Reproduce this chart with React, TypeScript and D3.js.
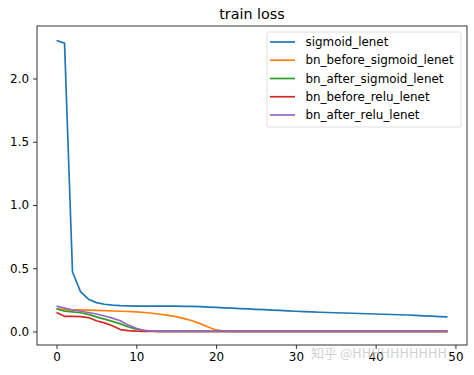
import * as d3 from "d3";
import { FC, useEffect, useRef } from "react";

const WIDTH = 474;
const HEIGHT = 375;
const MARGIN = { top: 26, right: 7, bottom: 30, left: 37 };

const epochs = d3.range(50);

const sigmoidLenet = [
  2.3, 2.28, 0.47, 0.315, 0.255, 0.228, 0.215, 0.208, 0.204, 0.202, 0.201,
  0.2, 0.2, 0.2, 0.2, 0.2, 0.199, 0.198, 0.196, 0.193, 0.19, 0.187, 0.184,
  0.181, 0.178, 0.175, 0.172, 0.169, 0.166, 0.163, 0.16, 0.157, 0.155, 0.152,
  0.15, 0.148, 0.146, 0.144, 0.142, 0.14, 0.138, 0.136, 0.134, 0.132, 0.13,
  0.127, 0.124, 0.121, 0.118, 0.115,
];
const bnBeforeSigmoid = [
  0.18, 0.17, 0.17, 0.17, 0.168, 0.166, 0.164, 0.162, 0.16, 0.158, 0.155,
  0.15, 0.144, 0.136, 0.127, 0.117, 0.102, 0.085, 0.062, 0.035, 0.012, 0.003,
  0.001, 0, 0, 0, 0, 0, 0, 0, 0, 0, 0, 0, 0, 0, 0, 0, 0, 0, 0, 0, 0, 0, 0, 0,
  0, 0, 0, 0,
];
const bnAfterSigmoid = [
  0.18, 0.16, 0.155, 0.148, 0.135, 0.115, 0.098, 0.08, 0.06, 0.035, 0.018,
  0.006, 0.002, 0, 0, 0, 0, 0, 0, 0, 0, 0, 0, 0, 0, 0, 0, 0, 0, 0, 0, 0, 0, 0,
  0, 0, 0, 0, 0, 0, 0, 0, 0, 0, 0, 0, 0, 0, 0, 0,
];
const bnBeforeRelu = [
  0.15, 0.12, 0.12, 0.118, 0.11, 0.085, 0.068, 0.045, 0.015, 0.006, 0.002,
  0.001, 0, 0, 0, 0, 0, 0, 0, 0, 0, 0, 0, 0, 0, 0, 0, 0, 0, 0, 0, 0, 0, 0, 0,
  0, 0, 0, 0, 0, 0, 0, 0, 0, 0, 0, 0, 0, 0, 0,
];
const bnAfterRelu = [
  0.2, 0.185, 0.17, 0.16, 0.15, 0.138, 0.122, 0.105, 0.085, 0.05, 0.025, 0.008,
  0.003, 0, 0, 0, 0, 0, 0, 0, 0, 0, 0, 0, 0, 0, 0, 0, 0, 0, 0, 0, 0, 0, 0, 0,
  0, 0, 0, 0, 0, 0, 0, 0, 0, 0, 0, 0, 0, 0,
];

const seriesNames = [
  "sigmoid_lenet",
  "bn_before_sigmoid_lenet",
  "bn_after_sigmoid_lenet",
  "bn_before_relu_lenet",
  "bn_after_relu_lenet",
];
const seriesValues = [
  sigmoidLenet,
  bnBeforeSigmoid,
  bnAfterSigmoid,
  bnBeforeRelu,
  bnAfterRelu,
];
const colors = ["#1f77b4", "#ff7f0e", "#2ca02c", "#d62728", "#9467bd"];

const xTicks = [0, 10, 20, 30, 40, 50];
const yTicks = [0, 0.5, 1.0, 1.5, 2.0];

const FONT = "DejaVu Sans, sans-serif";
const FONT_SIZE = 11.9;

const App: FC = () => {
  const svgRef = useRef<SVGSVGElement | null>(null);

  useEffect(() => {
    if (!svgRef.current) return;
    const root = d3.select(svgRef.current);
    root.selectAll("*").remove();

    const innerW = WIDTH - MARGIN.left - MARGIN.right;
    const innerH = HEIGHT - MARGIN.top - MARGIN.bottom;

    // matplotlib-style 5% margins
    const xScale = d3.scaleLinear([-2.45, 51.45], [0, innerW]);
    const yScale = d3.scaleLinear([-0.107, 2.415], [innerH, 0]);

    const svg = root
      .append("g")
      .attr("transform", `translate(${MARGIN.left}, ${MARGIN.top})`);

    const line = d3
      .line<number>()
      .x((_, i) => xScale(epochs[i]))
      .y((d) => yScale(d));

    svg
      .append("g")
      .selectAll("path")
      .data(seriesValues)
      .enter()
      .append("path")
      .attr("d", (d) => line(d))
      .attr("fill", "none")
      .attr("stroke", (_, i) => colors[i])
      .attr("stroke-width", 1.7)
      .attr("stroke-linejoin", "round");

    const xAxis = svg
      .append("g")
      .attr("transform", `translate(0, ${innerH})`)
      .call(
        d3
          .axisBottom(xScale)
          .tickValues(xTicks)
          .tickSize(4)
          .tickPadding(4)
          .tickFormat(d3.format("d"))
      );
    const yAxis = svg.append("g").call(
      d3
        .axisLeft(yScale)
        .tickValues(yTicks)
        .tickSize(4)
        .tickPadding(4)
        .tickFormat(d3.format(".1f"))
    );
    [xAxis, yAxis].forEach((ax) => {
      ax.select(".domain").remove();
      ax.selectAll("line").attr("stroke", "#000").attr("stroke-width", 0.8);
      ax.selectAll("text")
        .attr("font-family", FONT)
        .attr("font-size", FONT_SIZE)
        .attr("fill", "#000");
    });

    svg
      .append("rect")
      .attr("width", innerW)
      .attr("height", innerH)
      .attr("fill", "none")
      .attr("stroke", "#000")
      .attr("stroke-width", 0.8);

    root
      .append("text")
      .attr("x", MARGIN.left + innerW / 2)
      .attr("y", 18.5)
      .attr("text-anchor", "middle")
      .attr("font-family", FONT)
      .attr("font-size", 14.3)
      .text("train loss");

    // legend
    const legend = root.append("g").attr("transform", "translate(267, 32)");
    legend
      .append("rect")
      .attr("width", 194)
      .attr("height", 95)
      .attr("rx", 2)
      .attr("fill", "#fff")
      .attr("fill-opacity", 0.8)
      .attr("stroke", "#d6d6d6")
      .attr("stroke-width", 0.8);
    const items = legend
      .selectAll("g.item")
      .data(seriesNames)
      .enter()
      .append("g")
      .attr("class", "item")
      .attr("transform", (_, i) => `translate(0, ${10 + i * 18.25})`);
    items
      .append("line")
      .attr("x1", 3)
      .attr("x2", 28)
      .attr("stroke", (_, i) => colors[i])
      .attr("stroke-width", 1.7);
    items
      .append("text")
      .attr("x", 38.5)
      .attr("dy", "0.35em")
      .attr("font-family", FONT)
      .attr("font-size", FONT_SIZE)
      .text((d) => d);

    // watermark
    root
      .append("text")
      .attr("x", 311)
      .attr("y", 358)
      .attr("font-family", "Noto Sans CJK SC, sans-serif")
      .attr("font-size", 13)
      .attr("fill", "#c8c8c8")
      .attr("fill-opacity", 0.85)
      .text("知乎 @HHHHHHHHHH");
  }, []);

  return (
    <svg
      ref={svgRef}
      width={WIDTH}
      height={HEIGHT}
      style={{ position: "absolute", left: 0, top: 0, background: "#fff" }}
    />
  );
};

export default App;
